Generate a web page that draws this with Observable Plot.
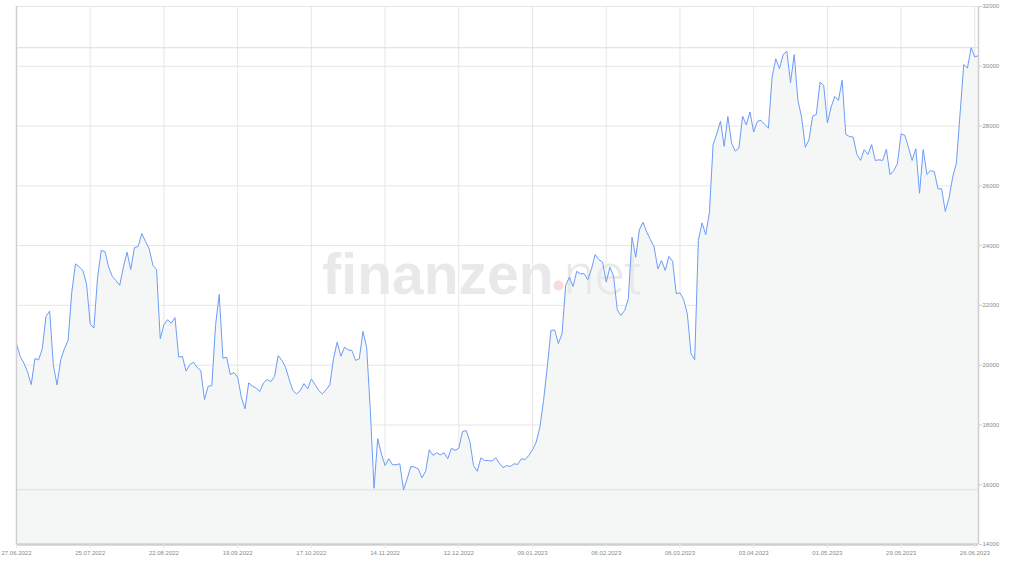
<!DOCTYPE html>
<html><head><meta charset="utf-8">
<script src="https://cdn.jsdelivr.net/npm/d3@7"></script>
<script src="https://cdn.jsdelivr.net/npm/@observablehq/plot@0.6"></script>
<style>html,body{margin:0;padding:0;background:#fff}</style>
</head><body><div id="chart"></div>
<script>
// Closing prices, one per trading day (Mon–Fri), 27.06.2022 – 27.06.2023
const prices = [
20720,20290,20070,19770,19350,20220,20180,20550,21630,21810,
19990,19340,20180,20550,20830,22440,23390,23290,23170,22720,
21380,21240,22940,23840,23800,23280,22970,22830,22670,23280,
23780,23200,23930,23970,24400,24140,23890,23340,23200,20880,
21350,21520,21400,21590,20270,20290,19800,20010,20100,19930,
19820,18850,19290,19320,21330,22370,20230,20270,19690,19750,
19600,18930,18540,19410,19300,19230,19120,19400,19520,19450,
19620,20320,20160,19930,19510,19150,19040,19150,19380,19210,
19540,19350,19150,19040,19180,19340,20210,20770,20300,20600,
20510,20490,20160,20210,21130,20600,18480,15880,17540,17030,
16640,16870,16670,16670,16700,15830,16200,16610,16590,16530,
16230,16450,17170,16980,17070,17000,17070,16870,17220,17150,
17220,17780,17810,17450,16640,16450,16900,16810,16810,16790,
16900,16720,16570,16640,16610,16700,16680,16870,16840,16980,
17170,17420,17920,18820,19930,21160,21180,20720,21050,22670,
22940,22630,23140,23060,23060,22860,23220,23700,23530,23450,
22780,23280,22970,21850,21660,21830,22220,24280,23610,24530,
24780,24450,24200,23950,23220,23500,23170,23640,23480,22390,
22420,22200,21720,20380,20180,24170,24760,24370,25110,27380,
27740,28160,27320,28320,27430,27160,27260,28330,28040,28470,
27800,28160,28190,28050,27930,29640,30250,29920,30390,30500,
29450,30390,28860,28300,27290,27540,28330,28390,29470,29360,
28100,28630,28990,28860,29530,27720,27650,27630,27050,26850,
27210,27050,27380,26850,26870,26850,27220,26370,26510,26740,
27740,27690,27290,26850,27240,25750,27210,26380,26510,26480,
25900,25900,25140,25590,26290,26760,28410,30060,29940,30620,
30310,30360
];
const tickDays = [0,20,40,60,80,100,120,140,160,180,200,220,240,260];
const tickDates = ["27.06.2022","25.07.2022","22.08.2022","19.09.2022","17.10.2022","14.11.2022","12.12.2022",
  "09.01.2023","06.02.2023","06.03.2023","03.04.2023","01.05.2023","29.05.2023","26.06.2023"];
const yTicks = [14000,16000,18000,20000,22000,24000,26000,28000,30000,32000];

const data = prices.map((p, i) => ({day: i, price: p}));
const labelOf = new Map(tickDays.map((d, i) => [d, tickDates[i]]));
const yMin = d3.min(prices), yMax = d3.max(prices);
const lastDay = prices.length - 1;

const chart = Plot.plot({
  width: 1010, height: 568,
  marginLeft: 16, marginRight: 32, marginTop: 6, marginBottom: 24,
  style: {fontFamily: "'Liberation Sans', Arial, sans-serif", background: "#fff"},
  x: {domain: [0, lastDay]},
  y: {domain: [yTicks[0], yTicks[yTicks.length - 1]]},
  marks: [
    Plot.gridY(yTicks, {stroke: "#e6e6e6", strokeOpacity: 1}),
    Plot.gridX(tickDays, {stroke: "#e6e6e6", strokeOpacity: 1}),
    Plot.areaY(data, {x: "day", y1: yTicks[0], y2: "price", fill: "#f5f7f7", curve: "linear"}),
    Plot.text(["finanzen"], {frameAnchor: "middle", textAnchor: "end", dx: 56, dy: 0, fontSize: 57,
      fontWeight: "bold", fill: "#e9e9e9", fontFamily: "'Liberation Sans', Arial, sans-serif"}),
    Plot.dot([0], {frameAnchor: "middle", dx: 61, dy: 10, r: 5, fill: "#f7dada", stroke: null}),
    Plot.text(["net"], {frameAnchor: "middle", textAnchor: "start", dx: 66, dy: 0, fontSize: 57,
      fontWeight: 300, fill: "#e9e9e9", fontFamily: "Roboto, 'Open Sans', sans-serif"}),
    Plot.ruleY([yMax, yMin], {stroke: "#dcdcdc", strokeWidth: 1}),
    Plot.lineY(data, {x: "day", y: "price", stroke: "#6d9cf6", strokeWidth: 1}),
    Plot.ruleX([0], {stroke: "#cfcfcf", strokeWidth: 1.5}),
    Plot.ruleX([lastDay], {stroke: "#cfcfcf", strokeWidth: 1.5}),
    Plot.ruleY([yTicks[0]], {stroke: "#cfcfcf", strokeWidth: 2.5}),
    Plot.axisX(tickDays, {tickFormat: d => labelOf.get(d), tickSize: 4, stroke: "#e6e6e6",
      tickPadding: 2, fontSize: 6, fill: "#8a8a8a", label: null}),
    Plot.axisY(yTicks, {anchor: "right", tickSize: 3, tickPadding: 1, stroke: "#cfcfcf",
      textAnchor: "start", fontSize: 6, fill: "#8a8a8a", label: null, tickFormat: d => String(d)})
  ]
});
document.getElementById("chart").appendChild(chart);
</script>
</body></html>
